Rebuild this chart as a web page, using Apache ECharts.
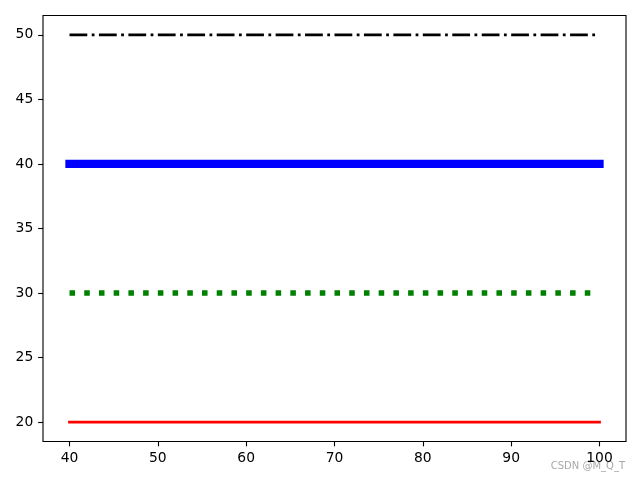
<!DOCTYPE html>
<html>
<head>
<meta charset="utf-8">
<script src="https://cdn.jsdelivr.net/npm/echarts@6/dist/echarts.min.js"></script>
<style>
  html, body { margin: 0; padding: 0; background: #fff; }
  #chart { width: 640px; height: 480px; }
</style>
</head>
<body>
<div id="chart"></div>
<script>
// data
const xValues = [40, 100];
const blackLine = [50, 50];
const blueLine = [40, 40];
const greenLine = [30, 30];
const redLine = [20, 20];
const xTicks = [40, 50, 60, 70, 80, 90, 100];
const yTicks = [20, 25, 30, 35, 40, 45, 50];

const pair = (ys) => xValues.map((x, i) => [x, ys[i]]);

// matplotlib: 1pt = 100/72 px
const pt = 100 / 72;

const tickFont = {
    color: '#000',
    fontSize: 10 * pt,
    fontFamily: 'DejaVu Sans',
};

const options = {
    animation: false,
    grid: {
        left: 43,
        right: 14,
        top: 15.5,
        bottom: 38.5,
        show: true,
        borderColor: '#000',
        borderWidth: 0.8 * pt,
        backgroundColor: '#fff',
    },
    xAxis: {
        type: 'value',
        min: 37,
        max: 103,
        splitLine: {show: false},
        axisLine: {show: false},
        axisTick: {
            show: true,
            length: 3.5 * pt,
            customValues: xTicks,
            lineStyle: {color: '#000', width: 0.8 * pt},
        },
        axisLabel: {
            ...tickFont,
            margin: 7 * pt,
            customValues: xTicks,
        },
    },
    yAxis: {
        type: 'value',
        min: 18.5,
        max: 51.5,
        splitLine: {show: false},
        axisLine: {show: false},
        axisTick: {
            show: true,
            length: 3.5 * pt,
            customValues: yTicks,
            lineStyle: {color: '#000', width: 0.8 * pt},
        },
        axisLabel: {
            ...tickFont,
            margin: 7 * pt,
            customValues: yTicks,
        },
    },
    series: [
        {
            type: 'line',
            data: pair(redLine),
            symbol: 'none',
            lineStyle: {color: '#ff0000', width: 2 * pt, cap: 'square'},
        },
        {
            type: 'line',
            data: pair(greenLine),
            symbol: 'none',
            lineStyle: {
                color: '#008000',
                width: 4 * pt,
                type: [4 * pt, 6.6 * pt],
                cap: 'butt',
            },
        },
        {
            type: 'line',
            data: pair(blueLine),
            symbol: 'none',
            lineStyle: {color: '#0000ff', width: 6 * pt, cap: 'square'},
        },
        {
            type: 'line',
            data: pair(blackLine),
            symbol: 'none',
            lineStyle: {
                color: '#000',
                width: 2 * pt,
                type: [12.8 * pt, 3.2 * pt, 2 * pt, 3.2 * pt],
                cap: 'butt',
            },
        },
    ],
    graphic: [
        {
            type: 'text',
            right: 15,
            bottom: 9,
            style: {
                text: 'CSDN @M_Q_T',
                fill: '#a8a8a8',
                fontSize: 10,
                fontFamily: 'DejaVu Sans',
            },
        },
    ],
};

const chart = echarts.init(document.getElementById('chart'));
chart.setOption(options);
</script>
</body>
</html>
